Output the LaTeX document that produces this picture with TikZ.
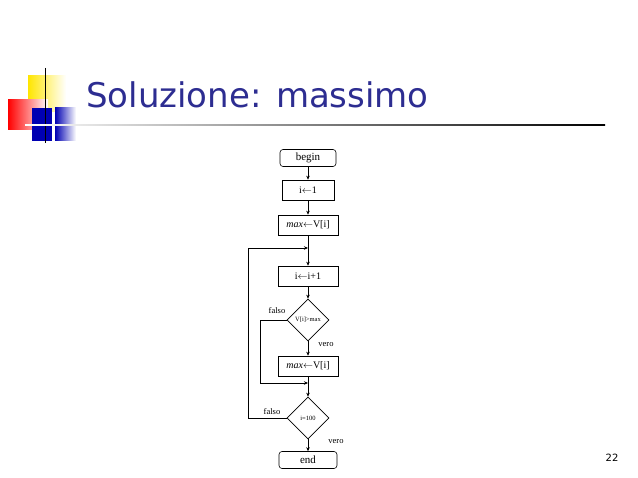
\documentclass[tikz,border=0pt]{standalone}
\usepackage{fontspec}
\setmainfont{Liberation Serif}
\newfontfamily\titlefont{DejaVu Sans}
\usetikzlibrary{shapes.geometric,arrows.meta}
\definecolor{titleblue}{RGB}{45,45,145}
\begin{document}
\begin{tikzpicture}[x=1pt,y=-1pt,
  box/.style={draw,semithick,minimum height=20pt,inner sep=1pt,font=\fontsize{10}{11}\selectfont},
  term/.style={box,rounded corners=3pt,minimum height=17pt,minimum width=56pt,font=\fontsize{11}{12}\selectfont},
  dec/.style={draw,semithick,diamond,minimum width=42pt,minimum height=42pt,inner sep=0pt,font=\fontsize{6.5}{7}\selectfont},
  arr/.style={-{Stealth[length=4pt,width=3.5pt]},semithick},
  lab/.style={font=\fontsize{8.5}{9}\selectfont}]
\useasboundingbox (0,0) rectangle (638,478);
% decoration
\shade[left color=yellow!80!orange,right color=white] (28,76) rectangle (66,112);
\shade[left color=red,right color=white] (8,100) rectangle (48,130);
\fill[blue!70!black] (32,108) rectangle (52,141);
\shade[left color=blue!70!black,right color=white] (55,108) rectangle (76,141);
\draw[black,line width=1pt] (45,68) -- (45,143);
\shade[left color=white,right color=black] (25,124.5) rectangle (605,126);
\node[anchor=base west,text=titleblue,inner sep=0pt,font=\titlefont\fontsize{34}{36}\selectfont] (title) at (86,108) {Soluzione: massimo};
\node[font=\fontsize{10}{12}\selectfont\titlefont] (pg) at (612,458) {22};
% flowchart
\node[term] (begin) at (308,158) {begin};
\node[box,minimum width=52pt] (i1) at (308,190) {i$\leftarrow$1};
\node[box,minimum width=60pt] (m1) at (308,225) {\textit{max}$\leftarrow$V[i]};
\coordinate (j1) at (308,248);
\node[box,minimum width=60pt] (inc) at (308,276) {i$\leftarrow$i+1};
\node[dec] (d1) at (308,320) {V[i]>max};
\node[box,minimum width=60pt] (m2) at (308,366) {\textit{max}$\leftarrow$V[i]};
\coordinate (j2) at (308,383);
\node[dec] (d2) at (308,418) {i=100};
\node[term,minimum width=58pt] (end) at (308,460) {end};
\draw[arr] (begin) -- (i1);
\draw[arr] (i1) -- (m1);
\draw[semithick] (m1) -- (j1);
\draw[arr] (j1) -- (inc);
\draw[arr] (inc) -- (d1);
\draw[arr] (d1) -- (m2);
\draw[semithick] (m2) -- (j2);
\draw[arr] (j2) -- (d2);
\draw[arr] (d2) -- (end);
\draw[arr] (d1.west) -| (260,383) -- (j2);
\draw[arr] (d2.west) -| (248,248) -- (j1);
\node[lab] (f1) at (277,311) {falso};
\node[lab] (v1) at (326,345) {vero};
\node[lab] (f2) at (272,412) {falso};
\node[lab] (v2) at (336,442) {vero};
\end{tikzpicture}
\end{document}
